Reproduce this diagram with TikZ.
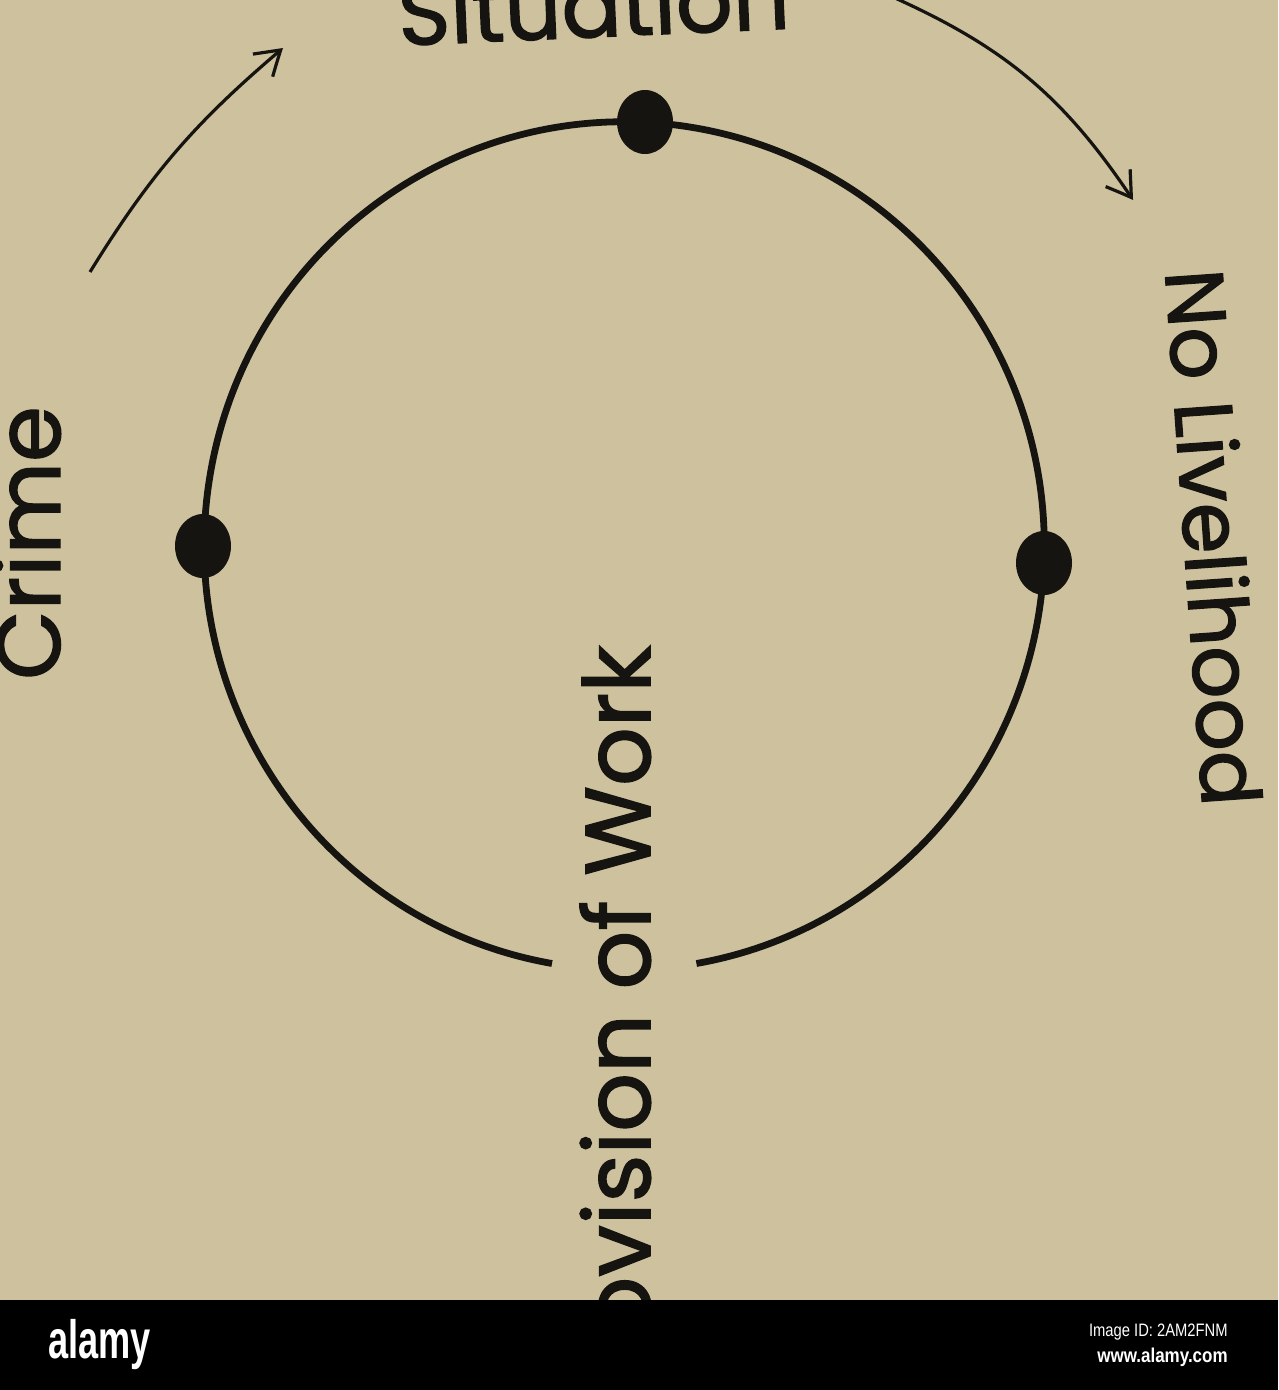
\documentclass[tikz,border=0pt]{standalone}
\usepackage{fontspec}
\setmainfont{Poppins}[FakeBold=1.6]
\newfontfamily\barfont{Liberation Sans}
\usetikzlibrary{arrows.meta,shapes.geometric,bending}
\definecolor{paper}{RGB}{205,194,157}
\definecolor{ink}{RGB}{22,20,16}
\begin{document}
\begin{tikzpicture}[x=0.5pt,y=-0.5pt,
  ring/.style={draw=ink,line width=3.4pt},
  knot/.style={ellipse,fill=ink,inner sep=0pt,minimum width=28pt,minimum height=32pt},
  pointer/.style={draw=ink,line width=1.6pt,-{Straight Barb[length=12pt,width=15pt,line width=1.6pt,bend]}},
  tag/.style={text=ink,inner sep=0pt},
  bartext/.style={text=white,inner sep=0pt}]
\fill[paper] (0,0) rectangle (1278,1390);
\useasboundingbox (0,0) rectangle (1278,1390);
% circle
\coordinate (gapL) at (552,963.5);
\draw[ring] (gapL) arc[start angle=99.9,end angle=440.1,x radius=420,y radius=424] coordinate (gapR);
% dots
\node[knot] (topdot) at (645,122) {};
\node[knot] (leftdot) at (203,546) {};
\node[knot] (rightdot) at (1044,563) {};
% labels
\node[tag,rotate=90,anchor=base,font=\fontsize{45}{54}\selectfont] (crime) at (60,543) {Crime};
\node[tag,rotate=2.5,anchor=base,font=\fontsize{44.5}{54}\selectfont] (situation) at (595,37) {Situation};
\node[tag,rotate=-86,anchor=base west,font=\fontsize{41}{50}\selectfont] (nolive) at (1165,271) {No Livelihood};
\node[tag,rotate=90,anchor=base east,font=\fontsize{46}{55}\selectfont] (work) at (650,645) {Provision of Work};
% arrows
\coordinate (a1s) at (90,272);
\coordinate (a1e) at (283,48);
\coordinate (a2s) at (895,-2);
\coordinate (a2e) at (1133,200);
\draw[pointer] (a1s) to[bend left=9] (a1e);
\draw[pointer] (a2s) to[bend left=16] (a2e);
% bottom bar
\fill[black] (0,1300) rectangle (1278,1390);
\node[bartext,anchor=west,xscale=0.67,font=\barfont\bfseries\fontsize{27}{30}\selectfont] (logo) at (48,1345) {alamy};
\node[bartext,anchor=east,xscale=0.82,font=\barfont\fontsize{9}{11}\selectfont] (imgid) at (1228,1332) {Image ID: 2AM2FNM};
\node[bartext,anchor=east,xscale=0.85,font=\barfont\bfseries\fontsize{10}{12}\selectfont] (url) at (1228,1357) {www.alamy.com};
\end{tikzpicture}
\end{document}
